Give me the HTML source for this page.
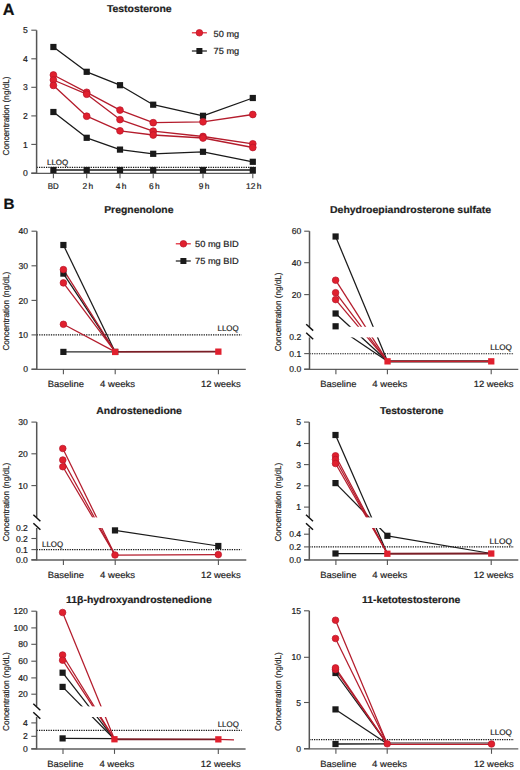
<!DOCTYPE html><html><head><meta charset="utf-8"><style>html,body{margin:0;padding:0;background:#fff}svg{display:block}</style></head><body><svg width="520" height="770" viewBox="0 0 520 770" text-rendering="geometricPrecision" font-family='"Liberation Sans", sans-serif'>
<rect width="520" height="770" fill="#fff"/>
<text x="2.8" y="14.9" font-size="16.2" font-weight="bold" fill="#111" stroke="#111" stroke-width="0.2">A</text>
<text x="3.4" y="208.5" font-size="14.8" font-weight="bold" textLength="11.0" lengthAdjust="spacingAndGlyphs" fill="#111" stroke="#111" stroke-width="0.2">B</text>
<text x="106.9" y="11.6" font-size="10" font-weight="bold" textLength="64.8" lengthAdjust="spacingAndGlyphs" fill="#1e1e1e" stroke="#1e1e1e" stroke-width="0.2">Testosterone</text>
<line x1="191.9" y1="32.8" x2="206.9" y2="32.8" stroke="#e0202e" stroke-width="1.2"/>
<circle cx="199.4" cy="32.8" r="3.30" fill="#e0202e" stroke="#b8142a" stroke-width="0.7"/>
<text x="213.6" y="36.7" font-size="8.8" textLength="25.6" lengthAdjust="spacingAndGlyphs" fill="#1e1e1e" stroke="#1e1e1e" stroke-width="0.2">50 mg</text>
<line x1="191.9" y1="51.0" x2="206.9" y2="51.0" stroke="#1a1a1a" stroke-width="1.2"/>
<rect x="196.4" y="48.0" width="6.0" height="6.0" fill="#1a1a1a"/>
<text x="213.6" y="54.0" font-size="8.8" textLength="25.6" lengthAdjust="spacingAndGlyphs" fill="#1e1e1e" stroke="#1e1e1e" stroke-width="0.2">75 mg</text>
<line x1="36.6" y1="167.4" x2="255.5" y2="167.4" stroke="#111" stroke-width="1.15" stroke-dasharray="1.25 1.1"/>
<text x="47.0" y="165.0" font-size="7.8" textLength="21.2" lengthAdjust="spacingAndGlyphs" fill="#1e1e1e" stroke="#1e1e1e" stroke-width="0.2">LLOQ</text>
<line x1="36.6" y1="30.3" x2="36.6" y2="173.6" stroke="#555555" stroke-width="1.5"/>
<line x1="31.3" y1="173.4" x2="255.8" y2="173.4" stroke="#5a5a5a" stroke-width="1.4"/>
<line x1="31.3" y1="173.0" x2="36.6" y2="173.0" stroke="#555555" stroke-width="1.1"/>
<text x="27.8" y="176.1" font-size="8.6" text-anchor="end" fill="#1e1e1e" stroke="#1e1e1e" stroke-width="0.2">0</text>
<line x1="31.3" y1="144.4" x2="36.6" y2="144.4" stroke="#555555" stroke-width="1.1"/>
<text x="27.8" y="147.5" font-size="8.6" text-anchor="end" fill="#1e1e1e" stroke="#1e1e1e" stroke-width="0.2">1</text>
<line x1="31.3" y1="115.9" x2="36.6" y2="115.9" stroke="#555555" stroke-width="1.1"/>
<text x="27.8" y="119.0" font-size="8.6" text-anchor="end" fill="#1e1e1e" stroke="#1e1e1e" stroke-width="0.2">2</text>
<line x1="31.3" y1="87.3" x2="36.6" y2="87.3" stroke="#555555" stroke-width="1.1"/>
<text x="27.8" y="90.4" font-size="8.6" text-anchor="end" fill="#1e1e1e" stroke="#1e1e1e" stroke-width="0.2">3</text>
<line x1="31.3" y1="58.8" x2="36.6" y2="58.8" stroke="#555555" stroke-width="1.1"/>
<text x="27.8" y="61.9" font-size="8.6" text-anchor="end" fill="#1e1e1e" stroke="#1e1e1e" stroke-width="0.2">4</text>
<line x1="31.3" y1="30.2" x2="36.6" y2="30.2" stroke="#555555" stroke-width="1.1"/>
<text x="27.8" y="33.3" font-size="8.6" text-anchor="end" fill="#1e1e1e" stroke="#1e1e1e" stroke-width="0.2">5</text>
<line x1="53.4" y1="173.0" x2="53.4" y2="178.2" stroke="#555555" stroke-width="1.1"/>
<line x1="86.7" y1="173.0" x2="86.7" y2="178.2" stroke="#555555" stroke-width="1.1"/>
<line x1="120.0" y1="173.0" x2="120.0" y2="178.2" stroke="#555555" stroke-width="1.1"/>
<line x1="153.2" y1="173.0" x2="153.2" y2="178.2" stroke="#555555" stroke-width="1.1"/>
<line x1="203.0" y1="173.0" x2="203.0" y2="178.2" stroke="#555555" stroke-width="1.1"/>
<line x1="252.8" y1="173.0" x2="252.8" y2="178.2" stroke="#555555" stroke-width="1.1"/>
<text x="47.8" y="189.2" font-size="8.4" textLength="11.0" lengthAdjust="spacingAndGlyphs" fill="#1e1e1e" stroke="#1e1e1e" stroke-width="0.2">BD</text>
<text x="82.5" y="189.2" font-size="8.4" fill="#1e1e1e" stroke="#1e1e1e" stroke-width="0.2">2<tspan dx="1.4">h</tspan></text>
<text x="115.8" y="189.2" font-size="8.4" fill="#1e1e1e" stroke="#1e1e1e" stroke-width="0.2">4<tspan dx="1.4">h</tspan></text>
<text x="149.0" y="189.2" font-size="8.4" fill="#1e1e1e" stroke="#1e1e1e" stroke-width="0.2">6<tspan dx="1.4">h</tspan></text>
<text x="198.8" y="189.2" font-size="8.4" fill="#1e1e1e" stroke="#1e1e1e" stroke-width="0.2">9<tspan dx="1.4">h</tspan></text>
<text x="246.1" y="189.2" font-size="8.4" fill="#1e1e1e" stroke="#1e1e1e" stroke-width="0.2">12<tspan dx="1.4">h</tspan></text>
<text transform="translate(8.7,116.0) rotate(-90) scale(0.25)" font-size="34.4" text-anchor="middle" textLength="316.0" lengthAdjust="spacingAndGlyphs" fill="#1e1e1e" stroke="#1e1e1e" stroke-width="0.8">Concentration (ng/dL)</text>
<polyline points="53.4,47.0 86.7,71.8 120.0,85.2 153.2,104.7 203.0,115.8 252.8,98.0" fill="none" stroke="#1a1a1a" stroke-width="1.3" stroke-linejoin="round"/>
<polyline points="53.4,112.0 86.7,137.8 120.0,149.6 153.2,153.8 203.0,151.8 252.8,161.8" fill="none" stroke="#1a1a1a" stroke-width="1.3" stroke-linejoin="round"/>
<polyline points="53.4,170.0 86.7,170.0 120.0,170.0 153.2,170.0 203.0,170.0 252.8,170.0" fill="none" stroke="#1a1a1a" stroke-width="1.3" stroke-linejoin="round"/>
<rect x="50.3" y="43.9" width="6.2" height="6.2" fill="#1a1a1a"/>
<rect x="83.6" y="68.7" width="6.2" height="6.2" fill="#1a1a1a"/>
<rect x="116.9" y="82.1" width="6.2" height="6.2" fill="#1a1a1a"/>
<rect x="150.1" y="101.6" width="6.2" height="6.2" fill="#1a1a1a"/>
<rect x="199.9" y="112.7" width="6.2" height="6.2" fill="#1a1a1a"/>
<rect x="249.7" y="94.9" width="6.2" height="6.2" fill="#1a1a1a"/>
<rect x="50.3" y="108.9" width="6.2" height="6.2" fill="#1a1a1a"/>
<rect x="83.6" y="134.7" width="6.2" height="6.2" fill="#1a1a1a"/>
<rect x="116.9" y="146.5" width="6.2" height="6.2" fill="#1a1a1a"/>
<rect x="150.1" y="150.7" width="6.2" height="6.2" fill="#1a1a1a"/>
<rect x="199.9" y="148.7" width="6.2" height="6.2" fill="#1a1a1a"/>
<rect x="249.7" y="158.7" width="6.2" height="6.2" fill="#1a1a1a"/>
<rect x="50.3" y="166.9" width="6.2" height="6.2" fill="#1a1a1a"/>
<rect x="83.6" y="166.9" width="6.2" height="6.2" fill="#1a1a1a"/>
<rect x="116.9" y="166.9" width="6.2" height="6.2" fill="#1a1a1a"/>
<rect x="150.1" y="166.9" width="6.2" height="6.2" fill="#1a1a1a"/>
<rect x="199.9" y="166.9" width="6.2" height="6.2" fill="#1a1a1a"/>
<rect x="249.7" y="166.9" width="6.2" height="6.2" fill="#1a1a1a"/>
<polyline points="53.4,75.0 86.7,92.3 120.0,110.1 153.2,122.7 203.0,121.8 252.8,114.5" fill="none" stroke="#b41c2c" stroke-width="1.3" stroke-linejoin="round"/>
<polyline points="53.4,80.0 86.7,94.2 120.0,119.6 153.2,131.2 203.0,136.5 252.8,143.8" fill="none" stroke="#b41c2c" stroke-width="1.3" stroke-linejoin="round"/>
<polyline points="53.4,85.4 86.7,116.2 120.0,130.8 153.2,135.0 203.0,138.0 252.8,147.5" fill="none" stroke="#b41c2c" stroke-width="1.3" stroke-linejoin="round"/>
<circle cx="53.4" cy="75.0" r="3.40" fill="#e0202e" stroke="#b8142a" stroke-width="0.7"/>
<circle cx="86.7" cy="92.3" r="3.40" fill="#e0202e" stroke="#b8142a" stroke-width="0.7"/>
<circle cx="120.0" cy="110.1" r="3.40" fill="#e0202e" stroke="#b8142a" stroke-width="0.7"/>
<circle cx="153.2" cy="122.7" r="3.40" fill="#e0202e" stroke="#b8142a" stroke-width="0.7"/>
<circle cx="203.0" cy="121.8" r="3.40" fill="#e0202e" stroke="#b8142a" stroke-width="0.7"/>
<circle cx="252.8" cy="114.5" r="3.40" fill="#e0202e" stroke="#b8142a" stroke-width="0.7"/>
<circle cx="53.4" cy="80.0" r="3.40" fill="#e0202e" stroke="#b8142a" stroke-width="0.7"/>
<circle cx="86.7" cy="94.2" r="3.40" fill="#e0202e" stroke="#b8142a" stroke-width="0.7"/>
<circle cx="120.0" cy="119.6" r="3.40" fill="#e0202e" stroke="#b8142a" stroke-width="0.7"/>
<circle cx="153.2" cy="131.2" r="3.40" fill="#e0202e" stroke="#b8142a" stroke-width="0.7"/>
<circle cx="203.0" cy="136.5" r="3.40" fill="#e0202e" stroke="#b8142a" stroke-width="0.7"/>
<circle cx="252.8" cy="143.8" r="3.40" fill="#e0202e" stroke="#b8142a" stroke-width="0.7"/>
<circle cx="53.4" cy="85.4" r="3.40" fill="#e0202e" stroke="#b8142a" stroke-width="0.7"/>
<circle cx="86.7" cy="116.2" r="3.40" fill="#e0202e" stroke="#b8142a" stroke-width="0.7"/>
<circle cx="120.0" cy="130.8" r="3.40" fill="#e0202e" stroke="#b8142a" stroke-width="0.7"/>
<circle cx="153.2" cy="135.0" r="3.40" fill="#e0202e" stroke="#b8142a" stroke-width="0.7"/>
<circle cx="203.0" cy="138.0" r="3.40" fill="#e0202e" stroke="#b8142a" stroke-width="0.7"/>
<circle cx="252.8" cy="147.5" r="3.40" fill="#e0202e" stroke="#b8142a" stroke-width="0.7"/>
<text x="104.2" y="213.4" font-size="10" font-weight="bold" textLength="69.3" lengthAdjust="spacingAndGlyphs" fill="#1e1e1e" stroke="#1e1e1e" stroke-width="0.2">Pregnenolone</text>
<text transform="translate(8.7,311.2) rotate(-90) scale(0.25)" font-size="34.4" text-anchor="middle" textLength="315.2" lengthAdjust="spacingAndGlyphs" fill="#1e1e1e" stroke="#1e1e1e" stroke-width="0.8">Concentration (ng/dL)</text>
<line x1="36.8" y1="334.9" x2="241.5" y2="334.9" stroke="#111" stroke-width="1.15" stroke-dasharray="1.25 1.1"/>
<text x="217.5" y="330.8" font-size="8.0" textLength="21.2" lengthAdjust="spacingAndGlyphs" fill="#1e1e1e" stroke="#1e1e1e" stroke-width="0.2">LLOQ</text>
<polyline points="63.4,351.9 115.2,351.9" fill="none" stroke="#2a2a2a" stroke-width="1.4" stroke-linejoin="round"/>
<polyline points="63.4,245.0 115.2,351.9" fill="none" stroke="#1a1a1a" stroke-width="1.25" stroke-linejoin="round"/>
<polyline points="63.4,273.6 115.2,351.9" fill="none" stroke="#1a1a1a" stroke-width="1.25" stroke-linejoin="round"/>
<polyline points="63.4,269.6 115.2,351.9" fill="none" stroke="#b41c2c" stroke-width="1.25" stroke-linejoin="round"/>
<polyline points="63.4,282.9 115.2,351.9" fill="none" stroke="#b41c2c" stroke-width="1.25" stroke-linejoin="round"/>
<polyline points="63.4,324.3 115.2,351.9" fill="none" stroke="#b41c2c" stroke-width="1.25" stroke-linejoin="round"/>
<polyline points="115.2,351.9 218.4,351.6" fill="none" stroke="#7a1e26" stroke-width="1.9" stroke-linejoin="round"/>
<line x1="36.8" y1="231.2" x2="36.8" y2="369.7" stroke="#555555" stroke-width="1.5"/>
<line x1="31.5" y1="369.4" x2="245.8" y2="369.4" stroke="#5e5e5e" stroke-width="1.4"/>
<line x1="31.5" y1="231.2" x2="36.8" y2="231.2" stroke="#555555" stroke-width="1.1"/>
<text x="28.0" y="234.3" font-size="8.6" text-anchor="end" fill="#1e1e1e" stroke="#1e1e1e" stroke-width="0.2">40</text>
<line x1="31.5" y1="265.8" x2="36.8" y2="265.8" stroke="#555555" stroke-width="1.1"/>
<text x="28.0" y="268.9" font-size="8.6" text-anchor="end" fill="#1e1e1e" stroke="#1e1e1e" stroke-width="0.2">30</text>
<line x1="31.5" y1="300.4" x2="36.8" y2="300.4" stroke="#555555" stroke-width="1.1"/>
<text x="28.0" y="303.5" font-size="8.6" text-anchor="end" fill="#1e1e1e" stroke="#1e1e1e" stroke-width="0.2">20</text>
<line x1="31.5" y1="334.9" x2="36.8" y2="334.9" stroke="#555555" stroke-width="1.1"/>
<text x="28.0" y="338.0" font-size="8.6" text-anchor="end" fill="#1e1e1e" stroke="#1e1e1e" stroke-width="0.2">10</text>
<line x1="31.5" y1="369.1" x2="36.8" y2="369.1" stroke="#555555" stroke-width="1.1"/>
<text x="28.0" y="372.2" font-size="8.6" text-anchor="end" fill="#1e1e1e" stroke="#1e1e1e" stroke-width="0.2">0</text>
<line x1="63.4" y1="369.1" x2="63.4" y2="374.3" stroke="#555555" stroke-width="1.1"/>
<text x="47.7" y="387.0" font-size="9.0" textLength="36.2" lengthAdjust="spacingAndGlyphs" fill="#1e1e1e" stroke="#1e1e1e" stroke-width="0.2">Baseline</text>
<line x1="115.2" y1="369.1" x2="115.2" y2="374.3" stroke="#555555" stroke-width="1.1"/>
<text x="100.1" y="387.0" font-size="9.0" textLength="35.0" lengthAdjust="spacingAndGlyphs" fill="#1e1e1e" stroke="#1e1e1e" stroke-width="0.2">4 weeks</text>
<line x1="218.4" y1="369.1" x2="218.4" y2="374.3" stroke="#555555" stroke-width="1.1"/>
<text x="200.9" y="387.0" font-size="9.0" textLength="39.8" lengthAdjust="spacingAndGlyphs" fill="#1e1e1e" stroke="#1e1e1e" stroke-width="0.2">12 weeks</text>
<rect x="60.3" y="241.9" width="6.2" height="6.2" fill="#1a1a1a"/>
<rect x="60.3" y="270.5" width="6.2" height="6.2" fill="#1a1a1a"/>
<rect x="60.3" y="348.8" width="6.2" height="6.2" fill="#1a1a1a"/>
<circle cx="63.4" cy="269.6" r="3.30" fill="#e0202e" stroke="#b8142a" stroke-width="0.7"/>
<circle cx="63.4" cy="282.9" r="3.30" fill="#e0202e" stroke="#b8142a" stroke-width="0.7"/>
<circle cx="63.4" cy="324.3" r="3.30" fill="#e0202e" stroke="#b8142a" stroke-width="0.7"/>
<rect x="112.1" y="348.8" width="6.2" height="6.2" fill="#1a1a1a"/>
<rect x="112.0" y="348.8" width="6.3" height="6.3" fill="#e0202e"/>
<rect x="215.2" y="348.5" width="6.3" height="6.3" fill="#e0202e"/>
<line x1="175.8" y1="243.8" x2="190.8" y2="243.8" stroke="#e0202e" stroke-width="1.2"/>
<circle cx="183.4" cy="243.8" r="3.30" fill="#e0202e" stroke="#b8142a" stroke-width="0.7"/>
<text x="195.0" y="246.9" font-size="8.8" textLength="43.8" lengthAdjust="spacingAndGlyphs" fill="#1e1e1e" stroke="#1e1e1e" stroke-width="0.2">50 mg BID</text>
<line x1="175.8" y1="261.0" x2="190.8" y2="261.0" stroke="#1a1a1a" stroke-width="1.2"/>
<rect x="180.4" y="258.0" width="6.0" height="6.0" fill="#1a1a1a"/>
<text x="195.0" y="264.1" font-size="8.8" textLength="43.8" lengthAdjust="spacingAndGlyphs" fill="#1e1e1e" stroke="#1e1e1e" stroke-width="0.2">75 mg BID</text>
<text x="330.0" y="213.4" font-size="10" font-weight="bold" textLength="161.1" lengthAdjust="spacingAndGlyphs" fill="#1e1e1e" stroke="#1e1e1e" stroke-width="0.2">Dehydroepiandrosterone sulfate</text>
<text transform="translate(281.3,311.9) rotate(-90) scale(0.25)" font-size="34.4" text-anchor="middle" textLength="315.2" lengthAdjust="spacingAndGlyphs" fill="#1e1e1e" stroke="#1e1e1e" stroke-width="0.8">Concentration (ng/dL)</text>
<line x1="309.5" y1="353.7" x2="514.0" y2="353.7" stroke="#111" stroke-width="1.15" stroke-dasharray="1.25 1.1"/>
<text x="490.2" y="349.5" font-size="8.0" textLength="21.7" lengthAdjust="spacingAndGlyphs" fill="#1e1e1e" stroke="#1e1e1e" stroke-width="0.2">LLOQ</text>
<polyline points="335.6,236.5 387.5,361.3" fill="none" stroke="#1a1a1a" stroke-width="1.25" stroke-linejoin="round"/>
<polyline points="335.6,313.5 387.5,361.3" fill="none" stroke="#1a1a1a" stroke-width="1.25" stroke-linejoin="round"/>
<polyline points="335.6,326.3 387.5,361.3" fill="none" stroke="#1a1a1a" stroke-width="1.25" stroke-linejoin="round"/>
<polyline points="335.6,280.2 387.5,361.3" fill="none" stroke="#b41c2c" stroke-width="1.25" stroke-linejoin="round"/>
<polyline points="335.6,292.7 387.5,361.3" fill="none" stroke="#b41c2c" stroke-width="1.25" stroke-linejoin="round"/>
<polyline points="335.6,299.6 387.5,361.3" fill="none" stroke="#b41c2c" stroke-width="1.25" stroke-linejoin="round"/>
<polyline points="387.5,361.3 491.2,361.3" fill="none" stroke="#3a1010" stroke-width="2.2" stroke-linejoin="round"/>
<polyline points="387.5,361.3 491.2,361.3" fill="none" stroke="#c41e2c" stroke-width="1.2" stroke-linejoin="round"/>
<rect x="308.0" y="326.8" width="211.8" height="10.6" fill="#fff"/>
<line x1="309.5" y1="231.2" x2="309.5" y2="326.8" stroke="#555555" stroke-width="1.5"/>
<line x1="309.5" y1="337.4" x2="309.5" y2="369.7" stroke="#555555" stroke-width="1.5"/>
<line x1="304.2" y1="369.4" x2="518.3" y2="369.4" stroke="#5e5e5e" stroke-width="1.4"/>
<line x1="304.2" y1="231.2" x2="309.5" y2="231.2" stroke="#555555" stroke-width="1.1"/>
<text x="301.3" y="234.3" font-size="8.6" text-anchor="end" fill="#1e1e1e" stroke="#1e1e1e" stroke-width="0.2">60</text>
<line x1="304.2" y1="262.7" x2="309.5" y2="262.7" stroke="#555555" stroke-width="1.1"/>
<text x="301.3" y="265.8" font-size="8.6" text-anchor="end" fill="#1e1e1e" stroke="#1e1e1e" stroke-width="0.2">40</text>
<line x1="304.2" y1="294.6" x2="309.5" y2="294.6" stroke="#555555" stroke-width="1.1"/>
<text x="301.3" y="297.7" font-size="8.6" text-anchor="end" fill="#1e1e1e" stroke="#1e1e1e" stroke-width="0.2">20</text>
<line x1="304.2" y1="353.6" x2="309.5" y2="353.6" stroke="#555555" stroke-width="1.1"/>
<text x="301.3" y="356.7" font-size="8.6" text-anchor="end" fill="#1e1e1e" stroke="#1e1e1e" stroke-width="0.2">0.1</text>
<line x1="304.2" y1="369.1" x2="309.5" y2="369.1" stroke="#555555" stroke-width="1.1"/>
<text x="301.3" y="372.2" font-size="8.6" text-anchor="end" fill="#1e1e1e" stroke="#1e1e1e" stroke-width="0.2">0.0</text>
<line x1="335.9" y1="369.1" x2="335.9" y2="374.3" stroke="#555555" stroke-width="1.1"/>
<text x="320.2" y="387.0" font-size="9.0" textLength="36.2" lengthAdjust="spacingAndGlyphs" fill="#1e1e1e" stroke="#1e1e1e" stroke-width="0.2">Baseline</text>
<line x1="387.4" y1="369.1" x2="387.4" y2="374.3" stroke="#555555" stroke-width="1.1"/>
<text x="372.3" y="387.0" font-size="9.0" textLength="35.0" lengthAdjust="spacingAndGlyphs" fill="#1e1e1e" stroke="#1e1e1e" stroke-width="0.2">4 weeks</text>
<line x1="491.2" y1="369.1" x2="491.2" y2="374.3" stroke="#555555" stroke-width="1.1"/>
<text x="473.7" y="387.0" font-size="9.0" textLength="39.8" lengthAdjust="spacingAndGlyphs" fill="#1e1e1e" stroke="#1e1e1e" stroke-width="0.2">12 weeks</text>
<rect x="332.5" y="233.4" width="6.2" height="6.2" fill="#1a1a1a"/>
<rect x="332.5" y="310.4" width="6.2" height="6.2" fill="#1a1a1a"/>
<rect x="332.5" y="323.2" width="6.2" height="6.2" fill="#1a1a1a"/>
<circle cx="335.6" cy="280.2" r="3.30" fill="#e0202e" stroke="#b8142a" stroke-width="0.7"/>
<circle cx="335.6" cy="292.7" r="3.30" fill="#e0202e" stroke="#b8142a" stroke-width="0.7"/>
<circle cx="335.6" cy="299.6" r="3.30" fill="#e0202e" stroke="#b8142a" stroke-width="0.7"/>
<rect x="384.4" y="358.2" width="6.3" height="6.3" fill="#e0202e"/>
<rect x="488.1" y="358.2" width="6.3" height="6.3" fill="#e0202e"/>
<line x1="306.2" y1="324.2" x2="313.2" y2="330.6" stroke="#111" stroke-width="1.5"/>
<line x1="306.2" y1="332.7" x2="313.2" y2="339.2" stroke="#111" stroke-width="1.5"/>
<text x="301.3" y="340.1" font-size="8.6" text-anchor="end" fill="#1e1e1e" stroke="#1e1e1e" stroke-width="0.2">0.2</text>
<text x="96.3" y="413.5" font-size="10" font-weight="bold" textLength="85.6" lengthAdjust="spacingAndGlyphs" fill="#1e1e1e" stroke="#1e1e1e" stroke-width="0.2">Androstenedione</text>
<text transform="translate(8.7,502.2) rotate(-90) scale(0.25)" font-size="34.4" text-anchor="middle" textLength="315.2" lengthAdjust="spacingAndGlyphs" fill="#1e1e1e" stroke="#1e1e1e" stroke-width="0.8">Concentration (ng/dL)</text>
<line x1="36.7" y1="549.6" x2="241.4" y2="549.6" stroke="#111" stroke-width="1.15" stroke-dasharray="1.25 1.1"/>
<text x="42.0" y="547.4" font-size="8.0" textLength="21.0" lengthAdjust="spacingAndGlyphs" fill="#1e1e1e" stroke="#1e1e1e" stroke-width="0.2">LLOQ</text>
<polyline points="62.8,448.5 115.0,555.0" fill="none" stroke="#b41c2c" stroke-width="1.25" stroke-linejoin="round"/>
<polyline points="62.8,460.0 115.0,555.0" fill="none" stroke="#b41c2c" stroke-width="1.25" stroke-linejoin="round"/>
<polyline points="62.8,466.7 115.0,555.0" fill="none" stroke="#b41c2c" stroke-width="1.25" stroke-linejoin="round"/>
<polyline points="115.0,530.4 218.3,546.0" fill="none" stroke="#1a1a1a" stroke-width="1.25" stroke-linejoin="round"/>
<polyline points="115.0,555.0 218.3,554.6" fill="none" stroke="#b41c2c" stroke-width="1.25" stroke-linejoin="round"/>
<rect x="35.2" y="517.4" width="212.6" height="10.6" fill="#fff"/>
<line x1="36.7" y1="422.1" x2="36.7" y2="517.4" stroke="#555555" stroke-width="1.5"/>
<line x1="36.7" y1="528.0" x2="36.7" y2="560.3" stroke="#555555" stroke-width="1.5"/>
<line x1="31.4" y1="560.0" x2="246.3" y2="560.0" stroke="#5e5e5e" stroke-width="1.4"/>
<line x1="31.4" y1="422.1" x2="36.7" y2="422.1" stroke="#555555" stroke-width="1.1"/>
<text x="27.9" y="425.2" font-size="8.6" text-anchor="end" fill="#1e1e1e" stroke="#1e1e1e" stroke-width="0.2">30</text>
<line x1="31.4" y1="453.8" x2="36.7" y2="453.8" stroke="#555555" stroke-width="1.1"/>
<text x="27.9" y="456.9" font-size="8.6" text-anchor="end" fill="#1e1e1e" stroke="#1e1e1e" stroke-width="0.2">20</text>
<line x1="31.4" y1="485.6" x2="36.7" y2="485.6" stroke="#555555" stroke-width="1.1"/>
<text x="27.9" y="488.7" font-size="8.6" text-anchor="end" fill="#1e1e1e" stroke="#1e1e1e" stroke-width="0.2">10</text>
<line x1="31.4" y1="538.5" x2="36.7" y2="538.5" stroke="#555555" stroke-width="1.1"/>
<text x="27.9" y="541.6" font-size="8.6" text-anchor="end" fill="#1e1e1e" stroke="#1e1e1e" stroke-width="0.2">0.2</text>
<line x1="31.4" y1="549.6" x2="36.7" y2="549.6" stroke="#555555" stroke-width="1.1"/>
<text x="27.9" y="552.7" font-size="8.6" text-anchor="end" fill="#1e1e1e" stroke="#1e1e1e" stroke-width="0.2">0.1</text>
<line x1="31.4" y1="559.7" x2="36.7" y2="559.7" stroke="#555555" stroke-width="1.1"/>
<text x="27.9" y="562.8" font-size="8.6" text-anchor="end" fill="#1e1e1e" stroke="#1e1e1e" stroke-width="0.2">0.0</text>
<line x1="63.4" y1="559.7" x2="63.4" y2="564.9" stroke="#555555" stroke-width="1.1"/>
<text x="47.7" y="577.6" font-size="9.0" textLength="36.2" lengthAdjust="spacingAndGlyphs" fill="#1e1e1e" stroke="#1e1e1e" stroke-width="0.2">Baseline</text>
<line x1="115.2" y1="559.7" x2="115.2" y2="564.9" stroke="#555555" stroke-width="1.1"/>
<text x="100.1" y="577.6" font-size="9.0" textLength="35.0" lengthAdjust="spacingAndGlyphs" fill="#1e1e1e" stroke="#1e1e1e" stroke-width="0.2">4 weeks</text>
<line x1="218.4" y1="559.7" x2="218.4" y2="564.9" stroke="#555555" stroke-width="1.1"/>
<text x="200.9" y="577.6" font-size="9.0" textLength="39.8" lengthAdjust="spacingAndGlyphs" fill="#1e1e1e" stroke="#1e1e1e" stroke-width="0.2">12 weeks</text>
<circle cx="62.8" cy="448.5" r="3.30" fill="#e0202e" stroke="#b8142a" stroke-width="0.7"/>
<circle cx="62.8" cy="460.0" r="3.30" fill="#e0202e" stroke="#b8142a" stroke-width="0.7"/>
<circle cx="62.8" cy="466.7" r="3.30" fill="#e0202e" stroke="#b8142a" stroke-width="0.7"/>
<rect x="111.9" y="527.3" width="6.2" height="6.2" fill="#1a1a1a"/>
<rect x="215.2" y="542.9" width="6.2" height="6.2" fill="#1a1a1a"/>
<circle cx="115.0" cy="555.0" r="3.30" fill="#e0202e" stroke="#b8142a" stroke-width="0.7"/>
<circle cx="218.3" cy="554.6" r="3.30" fill="#e0202e" stroke="#b8142a" stroke-width="0.7"/>
<line x1="33.4" y1="514.8" x2="40.4" y2="521.2" stroke="#111" stroke-width="1.5"/>
<line x1="33.4" y1="523.3" x2="40.4" y2="529.8" stroke="#111" stroke-width="1.5"/>
<text x="27.9" y="531.1" font-size="8.6" text-anchor="end" fill="#1e1e1e" stroke="#1e1e1e" stroke-width="0.2">0.2</text>
<text x="380.0" y="413.5" font-size="10" font-weight="bold" textLength="63.5" lengthAdjust="spacingAndGlyphs" fill="#1e1e1e" stroke="#1e1e1e" stroke-width="0.2">Testosterone</text>
<text transform="translate(281.3,502.2) rotate(-90) scale(0.25)" font-size="34.4" text-anchor="middle" textLength="315.2" lengthAdjust="spacingAndGlyphs" fill="#1e1e1e" stroke="#1e1e1e" stroke-width="0.8">Concentration (ng/dL)</text>
<line x1="309.3" y1="546.9" x2="514.0" y2="546.9" stroke="#111" stroke-width="1.15" stroke-dasharray="1.25 1.1"/>
<text x="489.6" y="543.9" font-size="8.0" textLength="22.3" lengthAdjust="spacingAndGlyphs" fill="#1e1e1e" stroke="#1e1e1e" stroke-width="0.2">LLOQ</text>
<polyline points="335.5,435.0 387.4,553.7" fill="none" stroke="#1a1a1a" stroke-width="1.25" stroke-linejoin="round"/>
<polyline points="335.5,483.1 387.4,535.8" fill="none" stroke="#1a1a1a" stroke-width="1.25" stroke-linejoin="round"/>
<polyline points="335.5,553.5 387.4,553.7" fill="none" stroke="#1a1a1a" stroke-width="1.25" stroke-linejoin="round"/>
<polyline points="387.4,535.8 491.2,553.5" fill="none" stroke="#1a1a1a" stroke-width="1.25" stroke-linejoin="round"/>
<polyline points="335.5,455.8 387.4,553.7" fill="none" stroke="#b41c2c" stroke-width="1.25" stroke-linejoin="round"/>
<polyline points="335.5,459.5 387.4,553.7" fill="none" stroke="#b41c2c" stroke-width="1.25" stroke-linejoin="round"/>
<polyline points="335.5,463.5 387.4,553.7" fill="none" stroke="#b41c2c" stroke-width="1.25" stroke-linejoin="round"/>
<polyline points="387.4,553.7 491.2,553.5" fill="none" stroke="#7a1e26" stroke-width="1.9" stroke-linejoin="round"/>
<rect x="307.8" y="517.4" width="212.0" height="10.6" fill="#fff"/>
<line x1="309.3" y1="422.1" x2="309.3" y2="517.4" stroke="#555555" stroke-width="1.5"/>
<line x1="309.3" y1="528.0" x2="309.3" y2="560.3" stroke="#555555" stroke-width="1.5"/>
<line x1="304.0" y1="560.0" x2="518.3" y2="560.0" stroke="#5e5e5e" stroke-width="1.4"/>
<line x1="304.0" y1="422.1" x2="309.3" y2="422.1" stroke="#555555" stroke-width="1.1"/>
<text x="301.1" y="425.2" font-size="8.6" text-anchor="end" fill="#1e1e1e" stroke="#1e1e1e" stroke-width="0.2">5</text>
<line x1="304.0" y1="443.5" x2="309.3" y2="443.5" stroke="#555555" stroke-width="1.1"/>
<text x="301.1" y="446.6" font-size="8.6" text-anchor="end" fill="#1e1e1e" stroke="#1e1e1e" stroke-width="0.2">4</text>
<line x1="304.0" y1="464.6" x2="309.3" y2="464.6" stroke="#555555" stroke-width="1.1"/>
<text x="301.1" y="467.7" font-size="8.6" text-anchor="end" fill="#1e1e1e" stroke="#1e1e1e" stroke-width="0.2">3</text>
<line x1="304.0" y1="485.8" x2="309.3" y2="485.8" stroke="#555555" stroke-width="1.1"/>
<text x="301.1" y="488.9" font-size="8.6" text-anchor="end" fill="#1e1e1e" stroke="#1e1e1e" stroke-width="0.2">2</text>
<line x1="304.0" y1="507.1" x2="309.3" y2="507.1" stroke="#555555" stroke-width="1.1"/>
<text x="301.1" y="510.2" font-size="8.6" text-anchor="end" fill="#1e1e1e" stroke="#1e1e1e" stroke-width="0.2">1</text>
<line x1="304.0" y1="534.2" x2="309.3" y2="534.2" stroke="#555555" stroke-width="1.1"/>
<text x="301.1" y="537.3" font-size="8.6" text-anchor="end" fill="#1e1e1e" stroke="#1e1e1e" stroke-width="0.2">0.4</text>
<line x1="304.0" y1="546.9" x2="309.3" y2="546.9" stroke="#555555" stroke-width="1.1"/>
<text x="301.1" y="550.0" font-size="8.6" text-anchor="end" fill="#1e1e1e" stroke="#1e1e1e" stroke-width="0.2">0.2</text>
<line x1="304.0" y1="559.7" x2="309.3" y2="559.7" stroke="#555555" stroke-width="1.1"/>
<text x="301.1" y="562.8" font-size="8.6" text-anchor="end" fill="#1e1e1e" stroke="#1e1e1e" stroke-width="0.2">0.0</text>
<line x1="335.9" y1="559.7" x2="335.9" y2="564.9" stroke="#555555" stroke-width="1.1"/>
<text x="320.2" y="577.6" font-size="9.0" textLength="36.2" lengthAdjust="spacingAndGlyphs" fill="#1e1e1e" stroke="#1e1e1e" stroke-width="0.2">Baseline</text>
<line x1="387.4" y1="559.7" x2="387.4" y2="564.9" stroke="#555555" stroke-width="1.1"/>
<text x="372.3" y="577.6" font-size="9.0" textLength="35.0" lengthAdjust="spacingAndGlyphs" fill="#1e1e1e" stroke="#1e1e1e" stroke-width="0.2">4 weeks</text>
<line x1="491.2" y1="559.7" x2="491.2" y2="564.9" stroke="#555555" stroke-width="1.1"/>
<text x="473.7" y="577.6" font-size="9.0" textLength="39.8" lengthAdjust="spacingAndGlyphs" fill="#1e1e1e" stroke="#1e1e1e" stroke-width="0.2">12 weeks</text>
<rect x="332.4" y="431.9" width="6.2" height="6.2" fill="#1a1a1a"/>
<rect x="332.4" y="480.0" width="6.2" height="6.2" fill="#1a1a1a"/>
<rect x="332.4" y="550.4" width="6.2" height="6.2" fill="#1a1a1a"/>
<circle cx="335.5" cy="455.8" r="3.30" fill="#e0202e" stroke="#b8142a" stroke-width="0.7"/>
<circle cx="335.5" cy="459.5" r="3.30" fill="#e0202e" stroke="#b8142a" stroke-width="0.7"/>
<circle cx="335.5" cy="463.5" r="3.30" fill="#e0202e" stroke="#b8142a" stroke-width="0.7"/>
<rect x="384.3" y="532.7" width="6.2" height="6.2" fill="#1a1a1a"/>
<rect x="384.2" y="550.6" width="6.3" height="6.3" fill="#e0202e"/>
<rect x="488.1" y="550.4" width="6.3" height="6.3" fill="#e0202e"/>
<line x1="306.0" y1="514.8" x2="313.0" y2="521.2" stroke="#111" stroke-width="1.5"/>
<line x1="306.0" y1="523.3" x2="313.0" y2="529.8" stroke="#111" stroke-width="1.5"/>
<text x="66.0" y="602.7" font-size="10" font-weight="bold" textLength="145.7" lengthAdjust="spacingAndGlyphs" fill="#1e1e1e" stroke="#1e1e1e" stroke-width="0.2">11&#946;-hydroxyandrostenedione</text>
<text transform="translate(8.7,691.6) rotate(-90) scale(0.25)" font-size="34.4" text-anchor="middle" textLength="315.2" lengthAdjust="spacingAndGlyphs" fill="#1e1e1e" stroke="#1e1e1e" stroke-width="0.8">Concentration (ng/dL)</text>
<line x1="36.6" y1="730.4" x2="241.7" y2="730.4" stroke="#111" stroke-width="1.15" stroke-dasharray="1.25 1.1"/>
<text x="217.7" y="727.4" font-size="8.0" textLength="21.1" lengthAdjust="spacingAndGlyphs" fill="#1e1e1e" stroke="#1e1e1e" stroke-width="0.2">LLOQ</text>
<polyline points="62.6,672.7 114.5,739.3" fill="none" stroke="#1a1a1a" stroke-width="1.25" stroke-linejoin="round"/>
<polyline points="62.6,686.9 114.5,739.3" fill="none" stroke="#1a1a1a" stroke-width="1.25" stroke-linejoin="round"/>
<polyline points="62.6,738.4 114.5,738.6" fill="none" stroke="#1a1a1a" stroke-width="1.3" stroke-linejoin="round"/>
<polyline points="62.6,612.5 114.5,739.3" fill="none" stroke="#b41c2c" stroke-width="1.25" stroke-linejoin="round"/>
<polyline points="62.6,655.0 114.5,739.3" fill="none" stroke="#b41c2c" stroke-width="1.25" stroke-linejoin="round"/>
<polyline points="62.6,660.2 114.5,739.3" fill="none" stroke="#b41c2c" stroke-width="1.25" stroke-linejoin="round"/>
<polyline points="114.5,739.3 218.3,739.4" fill="none" stroke="#7a1e26" stroke-width="1.9" stroke-linejoin="round"/>
<polyline points="218.3,739.4 234.0,739.8" fill="none" stroke="#b41c2c" stroke-width="1.25" stroke-linejoin="round"/>
<rect x="35.1" y="706.4" width="212.0" height="10.6" fill="#fff"/>
<line x1="36.6" y1="611.2" x2="36.6" y2="706.4" stroke="#555555" stroke-width="1.5"/>
<line x1="36.6" y1="717.0" x2="36.6" y2="749.3" stroke="#555555" stroke-width="1.5"/>
<line x1="31.3" y1="749.0" x2="245.6" y2="749.0" stroke="#5e5e5e" stroke-width="1.4"/>
<line x1="31.3" y1="611.2" x2="36.6" y2="611.2" stroke="#555555" stroke-width="1.1"/>
<text x="27.8" y="614.3" font-size="8.6" text-anchor="end" fill="#1e1e1e" stroke="#1e1e1e" stroke-width="0.2">120</text>
<line x1="31.3" y1="627.9" x2="36.6" y2="627.9" stroke="#555555" stroke-width="1.1"/>
<text x="27.8" y="631.0" font-size="8.6" text-anchor="end" fill="#1e1e1e" stroke="#1e1e1e" stroke-width="0.2">100</text>
<line x1="31.3" y1="644.3" x2="36.6" y2="644.3" stroke="#555555" stroke-width="1.1"/>
<text x="27.8" y="647.4" font-size="8.6" text-anchor="end" fill="#1e1e1e" stroke="#1e1e1e" stroke-width="0.2">80</text>
<line x1="31.3" y1="661.2" x2="36.6" y2="661.2" stroke="#555555" stroke-width="1.1"/>
<text x="27.8" y="664.3" font-size="8.6" text-anchor="end" fill="#1e1e1e" stroke="#1e1e1e" stroke-width="0.2">60</text>
<line x1="31.3" y1="677.9" x2="36.6" y2="677.9" stroke="#555555" stroke-width="1.1"/>
<text x="27.8" y="681.0" font-size="8.6" text-anchor="end" fill="#1e1e1e" stroke="#1e1e1e" stroke-width="0.2">40</text>
<line x1="31.3" y1="694.2" x2="36.6" y2="694.2" stroke="#555555" stroke-width="1.1"/>
<text x="27.8" y="697.3" font-size="8.6" text-anchor="end" fill="#1e1e1e" stroke="#1e1e1e" stroke-width="0.2">20</text>
<line x1="31.3" y1="722.9" x2="36.6" y2="722.9" stroke="#555555" stroke-width="1.1"/>
<text x="27.8" y="726.0" font-size="8.6" text-anchor="end" fill="#1e1e1e" stroke="#1e1e1e" stroke-width="0.2">4</text>
<line x1="31.3" y1="736.3" x2="36.6" y2="736.3" stroke="#555555" stroke-width="1.1"/>
<text x="27.8" y="739.4" font-size="8.6" text-anchor="end" fill="#1e1e1e" stroke="#1e1e1e" stroke-width="0.2">2</text>
<line x1="31.3" y1="748.7" x2="36.6" y2="748.7" stroke="#555555" stroke-width="1.1"/>
<text x="27.8" y="751.8" font-size="8.6" text-anchor="end" fill="#1e1e1e" stroke="#1e1e1e" stroke-width="0.2">0</text>
<line x1="63.0" y1="748.7" x2="63.0" y2="753.9" stroke="#555555" stroke-width="1.1"/>
<text x="47.3" y="766.6" font-size="9.0" textLength="36.2" lengthAdjust="spacingAndGlyphs" fill="#1e1e1e" stroke="#1e1e1e" stroke-width="0.2">Baseline</text>
<line x1="114.5" y1="748.7" x2="114.5" y2="753.9" stroke="#555555" stroke-width="1.1"/>
<text x="99.4" y="766.6" font-size="9.0" textLength="35.0" lengthAdjust="spacingAndGlyphs" fill="#1e1e1e" stroke="#1e1e1e" stroke-width="0.2">4 weeks</text>
<line x1="218.3" y1="748.7" x2="218.3" y2="753.9" stroke="#555555" stroke-width="1.1"/>
<text x="200.8" y="766.6" font-size="9.0" textLength="39.8" lengthAdjust="spacingAndGlyphs" fill="#1e1e1e" stroke="#1e1e1e" stroke-width="0.2">12 weeks</text>
<circle cx="62.6" cy="612.5" r="3.30" fill="#e0202e" stroke="#b8142a" stroke-width="0.7"/>
<circle cx="62.6" cy="655.0" r="3.30" fill="#e0202e" stroke="#b8142a" stroke-width="0.7"/>
<circle cx="62.6" cy="660.2" r="3.30" fill="#e0202e" stroke="#b8142a" stroke-width="0.7"/>
<rect x="59.5" y="669.6" width="6.2" height="6.2" fill="#1a1a1a"/>
<rect x="59.5" y="683.8" width="6.2" height="6.2" fill="#1a1a1a"/>
<rect x="59.5" y="735.3" width="6.2" height="6.2" fill="#1a1a1a"/>
<rect x="111.3" y="736.1" width="6.3" height="6.3" fill="#e0202e"/>
<rect x="215.2" y="736.2" width="6.3" height="6.3" fill="#e0202e"/>
<line x1="33.3" y1="703.8" x2="40.3" y2="710.2" stroke="#111" stroke-width="1.5"/>
<line x1="33.3" y1="712.3" x2="40.3" y2="718.8" stroke="#111" stroke-width="1.5"/>
<text x="362.0" y="602.7" font-size="10" font-weight="bold" textLength="98.3" lengthAdjust="spacingAndGlyphs" fill="#1e1e1e" stroke="#1e1e1e" stroke-width="0.2">11-ketotestosterone</text>
<text transform="translate(281.3,691.6) rotate(-90) scale(0.25)" font-size="34.4" text-anchor="middle" textLength="315.2" lengthAdjust="spacingAndGlyphs" fill="#1e1e1e" stroke="#1e1e1e" stroke-width="0.8">Concentration (ng/dL)</text>
<line x1="309.3" y1="739.6" x2="514.0" y2="739.6" stroke="#111" stroke-width="1.15" stroke-dasharray="1.25 1.1"/>
<text x="490.2" y="735.4" font-size="8.0" textLength="21.7" lengthAdjust="spacingAndGlyphs" fill="#1e1e1e" stroke="#1e1e1e" stroke-width="0.2">LLOQ</text>
<polyline points="335.5,673.0 387.2,743.8" fill="none" stroke="#1a1a1a" stroke-width="1.25" stroke-linejoin="round"/>
<polyline points="335.5,709.4 387.2,743.8" fill="none" stroke="#1a1a1a" stroke-width="1.25" stroke-linejoin="round"/>
<polyline points="335.5,744.0 387.2,743.8" fill="none" stroke="#1a1a1a" stroke-width="1.3" stroke-linejoin="round"/>
<polyline points="335.5,620.2 387.2,743.8" fill="none" stroke="#b41c2c" stroke-width="1.25" stroke-linejoin="round"/>
<polyline points="335.5,638.5 387.2,743.8" fill="none" stroke="#b41c2c" stroke-width="1.25" stroke-linejoin="round"/>
<polyline points="335.5,667.9 387.2,743.8" fill="none" stroke="#b41c2c" stroke-width="1.25" stroke-linejoin="round"/>
<polyline points="335.5,669.6 387.2,743.8" fill="none" stroke="#b41c2c" stroke-width="1.25" stroke-linejoin="round"/>
<polyline points="387.2,743.0 491.5,743.0" fill="none" stroke="#2a1418" stroke-width="1.2" stroke-linejoin="round"/>
<polyline points="387.2,744.4 491.5,744.4" fill="none" stroke="#c01e2c" stroke-width="1.3" stroke-linejoin="round"/>
<line x1="309.3" y1="610.8" x2="309.3" y2="749.2" stroke="#555555" stroke-width="1.5"/>
<line x1="304.0" y1="748.9" x2="518.3" y2="748.9" stroke="#5e5e5e" stroke-width="1.4"/>
<line x1="304.0" y1="610.8" x2="309.3" y2="610.8" stroke="#555555" stroke-width="1.1"/>
<text x="301.1" y="613.9" font-size="8.6" text-anchor="end" fill="#1e1e1e" stroke="#1e1e1e" stroke-width="0.2">15</text>
<line x1="304.0" y1="657.3" x2="309.3" y2="657.3" stroke="#555555" stroke-width="1.1"/>
<text x="301.1" y="660.4" font-size="8.6" text-anchor="end" fill="#1e1e1e" stroke="#1e1e1e" stroke-width="0.2">10</text>
<line x1="304.0" y1="702.5" x2="309.3" y2="702.5" stroke="#555555" stroke-width="1.1"/>
<text x="301.1" y="705.6" font-size="8.6" text-anchor="end" fill="#1e1e1e" stroke="#1e1e1e" stroke-width="0.2">5</text>
<line x1="304.0" y1="748.6" x2="309.3" y2="748.6" stroke="#555555" stroke-width="1.1"/>
<text x="301.1" y="751.7" font-size="8.6" text-anchor="end" fill="#1e1e1e" stroke="#1e1e1e" stroke-width="0.2">0</text>
<line x1="335.9" y1="748.6" x2="335.9" y2="753.8" stroke="#555555" stroke-width="1.1"/>
<text x="320.2" y="766.5" font-size="9.0" textLength="36.2" lengthAdjust="spacingAndGlyphs" fill="#1e1e1e" stroke="#1e1e1e" stroke-width="0.2">Baseline</text>
<line x1="387.2" y1="748.6" x2="387.2" y2="753.8" stroke="#555555" stroke-width="1.1"/>
<text x="372.1" y="766.5" font-size="9.0" textLength="35.0" lengthAdjust="spacingAndGlyphs" fill="#1e1e1e" stroke="#1e1e1e" stroke-width="0.2">4 weeks</text>
<line x1="491.5" y1="748.6" x2="491.5" y2="753.8" stroke="#555555" stroke-width="1.1"/>
<text x="474.0" y="766.5" font-size="9.0" textLength="39.8" lengthAdjust="spacingAndGlyphs" fill="#1e1e1e" stroke="#1e1e1e" stroke-width="0.2">12 weeks</text>
<rect x="332.4" y="669.9" width="6.2" height="6.2" fill="#1a1a1a"/>
<rect x="332.4" y="706.3" width="6.2" height="6.2" fill="#1a1a1a"/>
<rect x="332.4" y="740.9" width="6.2" height="6.2" fill="#1a1a1a"/>
<circle cx="335.5" cy="620.2" r="3.30" fill="#e0202e" stroke="#b8142a" stroke-width="0.7"/>
<circle cx="335.5" cy="638.5" r="3.30" fill="#e0202e" stroke="#b8142a" stroke-width="0.7"/>
<circle cx="335.5" cy="669.6" r="3.30" fill="#e0202e" stroke="#b8142a" stroke-width="0.7"/>
<circle cx="335.5" cy="667.9" r="3.30" fill="#e0202e" stroke="#b8142a" stroke-width="0.7"/>
<circle cx="387.2" cy="743.8" r="3.30" fill="#e0202e" stroke="#b8142a" stroke-width="0.7"/>
<circle cx="491.5" cy="744.0" r="3.30" fill="#e0202e" stroke="#b8142a" stroke-width="0.7"/>
</svg></body></html>
